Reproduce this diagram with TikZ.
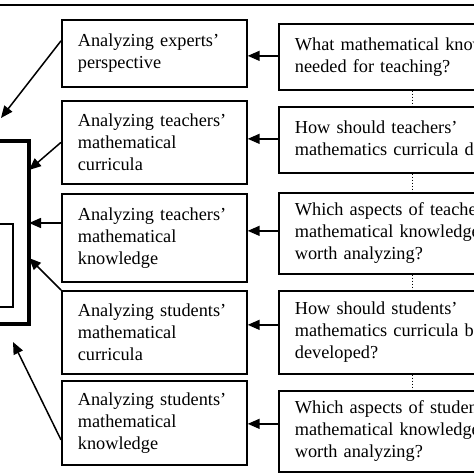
\documentclass[tikz,border=0pt]{standalone}
\usepackage{fontspec}
\setmainfont{Liberation Serif}
\usetikzlibrary{arrows.meta}

\begin{document}
\begin{tikzpicture}[
		x=1pt, y=-1pt,
		every node/.style={rectangle, draw, line width=1.7pt, anchor=north west, align=left, inner xsep=16pt, font=\fontsize{18.3pt}{22pt}\selectfont},
		stepbox/.style={minimum width=185pt, text width=153pt},
		askbox/.style={minimum width=312pt, text width=280pt},
		every edge/.style={draw, line width=1.5pt, -{Triangle[length=12pt, width=10pt]}}
	]
  \useasboundingbox (0,0) rectangle (474,474);
  \clip (0,0) rectangle (474,474);
  \draw [line width=1.4pt] (0,5) -- (474,5);
  % left frame
  \node (core) [line width=3.8pt, minimum width=200pt, minimum height=183pt] at (-173,139) {};
  \node (core_in) [line width=1.5pt, minimum width=100pt, minimum height=83pt] at (-88,223) {};
  % middle column
  \node (m_1) [stepbox, minimum height=67pt] at (61,19) {Analyzing experts’\\perspective};
  \node (m_2) [stepbox, minimum height=83pt] at (61,100) {Analyzing teachers’\\mathematical\\curricula};
  \node (m_3) [stepbox, minimum height=88pt] at (61,193) {Analyzing teachers’\\mathematical\\knowledge};
  \node (m_4) [stepbox, minimum height=83pt] at (61,290) {Analyzing students’\\mathematical\\curricula};
  \node (m_5) [stepbox, minimum height=84pt] at (61,380) {Analyzing students’\\mathematical\\knowledge};
  % questions
  \node (q_1) [askbox, minimum height=66pt] at (278,23) {What mathematical knowledge is\\needed for teaching?};
  \node (q_2) [askbox, minimum height=66pt] at (278,106) {How should teachers’\\mathematics curricula developed?};
  \node (q_3) [askbox, minimum height=81pt] at (278,192) {Which aspects of teachers’\\mathematical knowledge are\\worth analyzing?};
  \node (q_4) [askbox, minimum height=83pt] at (278,290) {How should students’\\mathematics curricula be\\developed?};
  \node (q_5) [askbox, minimum height=81pt] at (278,390) {Which aspects of students’\\mathematical knowledge are\\worth analyzing?};
  \foreach \i/\s in {1/1, 2/1, 3/2.5, 4/7.5, 5/7.5}
    \draw ([yshift=\s pt]q_\i.west) edge ([yshift=\s pt]q_\i.west -| m_\i.east);
  \foreach \a/\b in {1/2, 2/3, 3/4, 4/5}
    \draw [dotted, line width=1pt] ([xshift=134pt]q_\a.south west) -- ([xshift=134pt]q_\b.north west);
  % into the frame
  \coordinate (t_1) at (1,118);
  \coordinate (t_2) at (29,170);
  \coordinate (t_3) at (29,223);
  \coordinate (t_4) at (29,258);
  \coordinate (t_5) at (13,342);
  \draw ([yshift=12.5pt]m_1.west) edge (t_1);
  \draw (m_2.west) edge (t_2);
  \draw (m_3.west |- t_3) edge (t_3);
  \draw (m_4.north west) edge (t_4);
  \draw ([yshift=-17pt]m_5.west) edge (t_5);
\end{tikzpicture}
\end{document}
